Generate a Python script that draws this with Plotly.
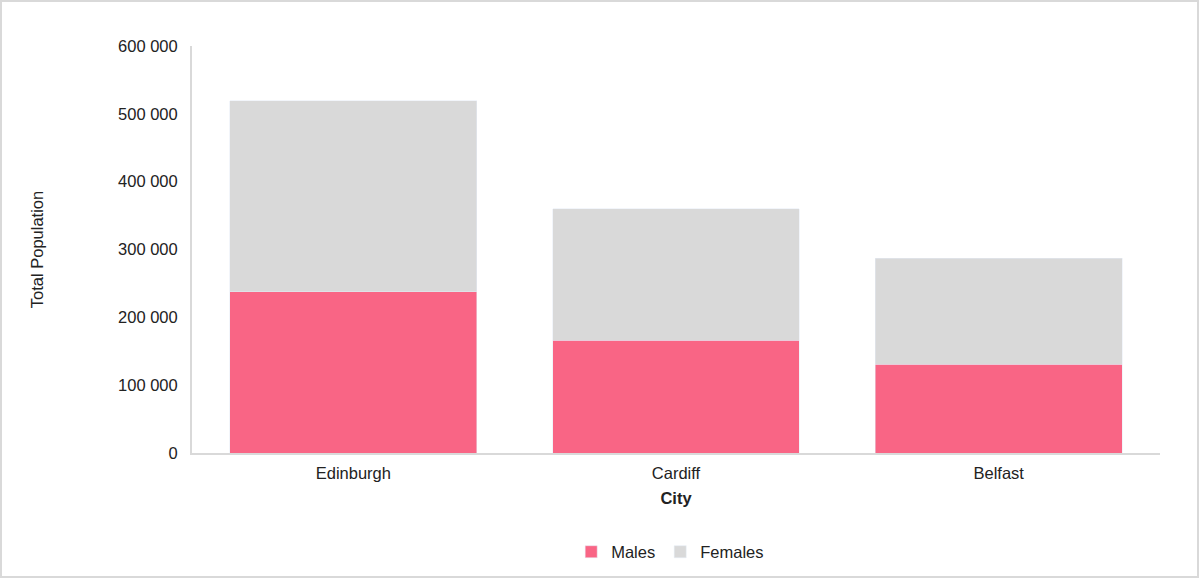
import plotly.graph_objects as go

# population by city
cities = ["Edinburgh", "Cardiff", "Belfast"]
males = [238000, 166000, 131000]
females = [281000, 194000, 156000]
y_ticks = [0, 100000, 200000, 300000, 400000, 500000, 600000]
y_tick_labels = ["0", "100 000", "200 000", "300 000", "400 000", "500 000", "600 000"]

W, H = 1200, 579
ml, mr, mt, mb = 192, 40, 46, 126
pw, ph = W - ml - mr, H - mt - mb

fig = go.Figure()
fig.add_trace(go.Bar(name="Males", x=cities, y=males, marker_color="#F96585"))
fig.add_trace(go.Bar(name="Females", x=cities, y=females, marker_color="#D9D9D9"))

fig.update_layout(
    barmode="stack",
    bargap=0.235,
    width=W, height=H,
    margin=dict(l=ml, r=mr, t=mt, b=mb),
    plot_bgcolor="white",
    paper_bgcolor="rgba(0,0,0,0)",
    font=dict(family="Liberation Sans, Arial, sans-serif", size=16.5, color="#222222"),
    showlegend=True,
    legend=dict(orientation="h", x=0.494, xanchor="center",
                yref="container", y=27 / H, yanchor="middle",
                bgcolor="rgba(0,0,0,0)",
                font=dict(size=16.5), itemwidth=30, traceorder="normal"),
)
fig.update_xaxes(
    title=dict(text="<b>City</b>", font=dict(size=16.5), standoff=12),
    showline=True, linecolor="#D9D9D9", linewidth=2,
    ticks="", showgrid=False, ticklabelstandoff=4,
)
fig.update_yaxes(
    title=dict(text="Total Population", font=dict(size=16.5), standoff=70),
    range=[0, 600000],
    tickvals=y_ticks, ticktext=y_tick_labels,
    showline=True, linecolor="#D9D9D9", linewidth=2,
    ticks="", showgrid=False, zeroline=False, ticklabelstandoff=9,
)

# thin frame round the whole picture
fig.add_shape(type="rect", xref="paper", yref="paper",
              x0=(1 - ml) / pw, x1=(W - 2 - ml) / pw,
              y0=-(mb - 2) / ph, y1=(ph + mt - 1) / ph,
              line=dict(color="#D9D9D9", width=2), layer="below")

# drop the default body margin so the chart sits at the page corner
fig.write_html("out.html", config={"displayModeBar": False},
               post_script="document.body.style.margin='0';")
